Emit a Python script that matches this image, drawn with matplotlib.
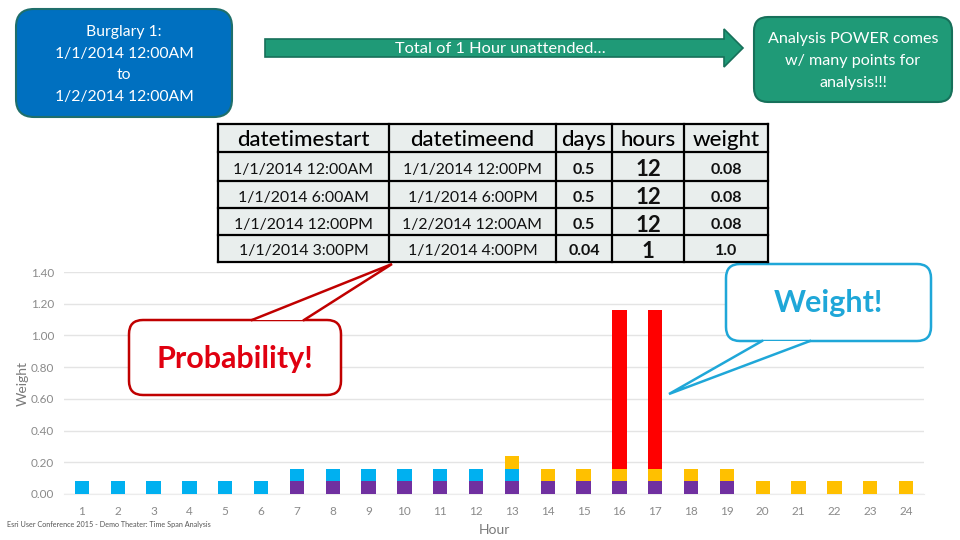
import matplotlib
matplotlib.use("Agg")
import matplotlib.pyplot as plt
from matplotlib.patches import FancyBboxPatch, Polygon, Rectangle

plt.rcParams['font.family'] = ['Lato', 'DejaVu Sans']

# Chart data
hours = list(range(1, 25))
purple = [0]*6 + [0.08]*13 + [0]*5
blue = [0.08]*13 + [0]*11
orange = [0]*12 + [0.08]*12
red = [0]*15 + [1.0, 1.0] + [0]*7
yticks = [0.0, 0.2, 0.4, 0.6, 0.8, 1.0, 1.2, 1.4]

# Table data
table_header = ["datetimestart", "datetimeend", "days", "hours", "weight"]
table_rows = [
    ["1/1/2014 12:00AM", "1/1/2014 12:00PM", "0.5", "12", "0.08"],
    ["1/1/2014 6:00AM", "1/1/2014 6:00PM", "0.5", "12", "0.08"],
    ["1/1/2014 12:00PM", "1/2/2014 12:00AM", "0.5", "12", "0.08"],
    ["1/1/2014 3:00PM", "1/1/2014 4:00PM", "0.04", "1", "1.0"],
]

W, H = 960, 540
fig = plt.figure(figsize=(9.6, 5.4), dpi=100)

# Stacked bars, axes placed so the ticks land where the slide has them
ax = fig.add_axes([64/W, 1 - 494/H, 860/W, 222/H])
bottom = [0]*24
for vals, col in [(purple, "#7030A0"), (blue, "#00B0F0"), (orange, "#FFC000"), (red, "#FF0000")]:
    ax.bar(hours, vals, width=0.4, bottom=bottom, color=col, zorder=3)
    bottom = [b + v for b, v in zip(bottom, vals)]
ax.set_xlim(0.5, 24.5)
ax.set_ylim(0, 1.4)
ax.set_xticks(hours)
ax.set_yticks(yticks, [f"{t:.2f}" for t in yticks])
ax.tick_params(length=0, labelsize=8.5, labelcolor="#8a8a8a")
ax.tick_params(axis='x', pad=8.5)
ax.tick_params(axis='y', pad=7)
ax.grid(axis='y', color="#e4e4e4", lw=1)
for s in ax.spines.values():
    s.set_visible(False)
ax.spines['bottom'].set_visible(True)
ax.spines['bottom'].set_color("#ececec")
ax.set_xlabel("Hour", fontsize=10, color="#7a7a7a", labelpad=5.5)
ax.set_ylabel("Weight", fontsize=10, color="#7a7a7a", labelpad=1.5)

# Overlay in slide pixels for the boxes, table and callouts
ov = fig.add_axes([0, 0, 1, 1], zorder=5)
ov.set_xlim(0, W)
ov.set_ylim(H, 0)
ov.axis('off')
ov.patch.set_alpha(0)


def roundBox(x0, y0, x1, y1, r, face, edge, lw):
    p = FancyBboxPatch((x0 + r, y0 + r), x1 - x0 - 2*r, y1 - y0 - 2*r,
                       boxstyle=f"round,pad={r},rounding_size={r}",
                       fc=face, ec=edge, lw=lw)
    ov.add_patch(p)


def callout(x0, y0, x1, y1, tail, col):
    roundBox(x0, y0, x1, y1, 14, "white", col, 1.8)
    ov.add_patch(Polygon(tail, closed=True, fc="white", ec="none"))
    ov.plot([p[0] for p in tail], [p[1] for p in tail], color=col, lw=1.8, solid_joinstyle='miter')


# Top row
roundBox(16, 9, 232, 117, 18, "#0070C0", "#1F6F6B", 1.5)
for y, s in zip([32, 54, 75, 97], ["Burglary 1:", "1/1/2014 12:00AM", "to", "1/2/2014 12:00AM"]):
    ov.text(124, y, s, color="white", fontsize=11.3, ha='center', va='center')

ov.add_patch(Polygon([(265, 39), (724, 39), (724, 29), (743, 48), (724, 67), (724, 57), (265, 57)],
                     closed=True, fc="#1F9A77", ec="#17705A", lw=1.2))
ov.text(500, 49, "Total of 1 Hour unattended…", color="white", fontsize=11.8, ha='center', va='center')

roundBox(754, 17, 952, 102, 14, "#1F9A77", "#17705A", 1.5)
for y, s in zip([39, 61, 83], ["Analysis POWER comes", "w/ many points for", "analysis!!!"]):
    ov.text(853, y, s, color="white", fontsize=11.6, ha='center', va='center')

# Table
col_edges = [218, 389, 556, 612, 684, 768]
row_edges = [124, 152, 181, 208, 235, 262]
row_text_y = [170, 198, 225, 251]
ov.add_patch(Rectangle((col_edges[0], row_edges[0]), col_edges[-1] - col_edges[0],
                       row_edges[-1] - row_edges[0], fc="#E9EEED", ec="none"))
for x in col_edges:
    ov.plot([x, x], [row_edges[0], row_edges[-1]], color="black", lw=1.6)
for y in row_edges:
    ov.plot([col_edges[0], col_edges[-1]], [y, y], color="black", lw=1.6)
for j, s in enumerate(table_header):
    ov.text((col_edges[j] + col_edges[j+1])/2, 140, s, color="black", fontsize=16,
            fontweight='medium', ha='center', va='center')
for i, row in enumerate(table_rows):
    for j, s in enumerate(row):
        size, weight = 11.4, 'normal'
        if j == 3:
            size, weight = 16, 'bold'
        elif j > 1:
            size, weight = 11.5, 'bold'
        ov.text((col_edges[j] + col_edges[j+1])/2, row_text_y[i], s, color="#111111", fontsize=size,
                fontweight=weight, ha='center', va='center')

# Callouts
callout(129, 320, 341, 395, [(252, 320), (392, 264), (304, 320)], "#C00000")
ov.text(235, 359, "Probability!", color="#E00010", fontsize=22, fontweight='bold', ha='center', va='center')
callout(726, 264, 931, 341, [(762, 341), (669, 394), (810, 341)], "#1FA7D8")
ov.text(828, 303, "Weight!", color="#1FA7D8", fontsize=22, fontweight='bold', ha='center', va='center')

# Footer
ov.text(7, 525, "Esri User Conference 2015 - Demo Theater: Time Span Analysis", color="#555555",
        fontsize=5.25, ha='left', va='center')

fig.savefig("out.png", dpi=100)
